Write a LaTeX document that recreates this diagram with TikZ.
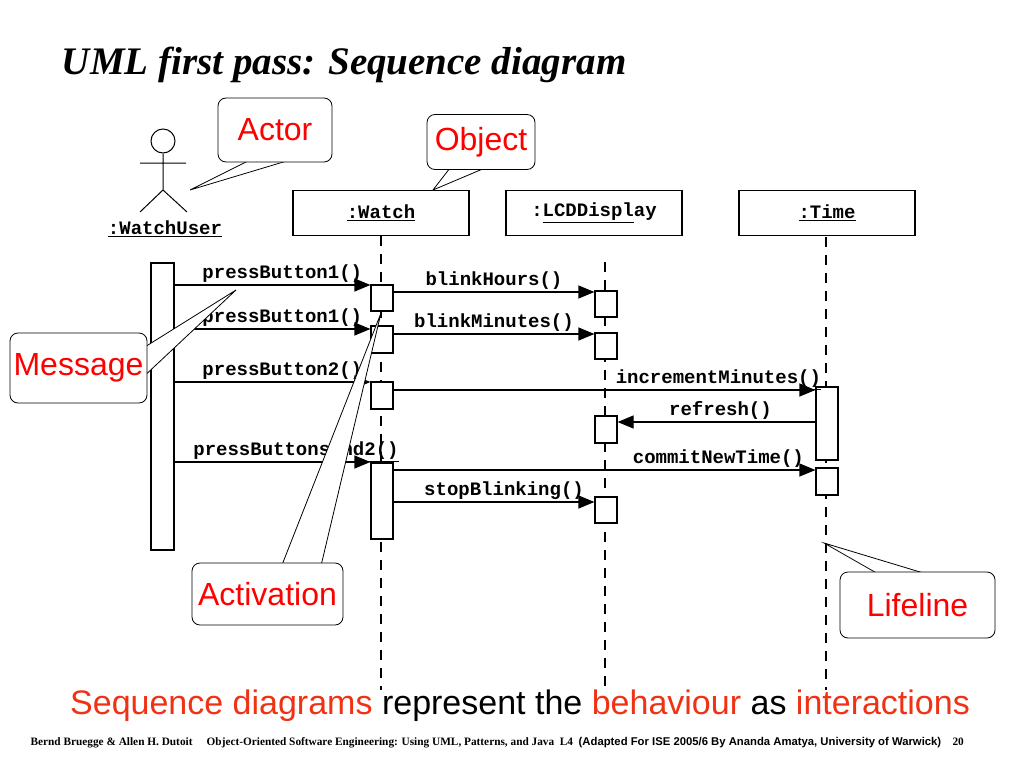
\documentclass[tikz,border=0pt]{standalone}
\usepackage{fontspec}
\setmainfont{Liberation Serif}
\newfontfamily\msf{Liberation Sans}
\newfontfamily\mmono{Liberation Mono}
\usetikzlibrary{arrows.meta}
\definecolor{hl}{RGB}{240,50,20}
\begin{document}
\begin{tikzpicture}[x=1pt,y=-1pt,line width=1.2pt,
 obj/.style={draw,minimum width=176pt,minimum height=45pt,font=\mmono\bfseries\fontsize{19}{19}\selectfont},
 act/.style={draw,fill=white},
 life/.style={dash pattern=on 10pt off 8pt},
 msg/.style={-{Triangle[length=16pt,width=13pt]}},
 lab/.style={font=\mmono\bfseries\fontsize{19}{19}\selectfont,inner sep=1pt},
 call/.style={draw,fill=white,rounded corners=8pt,line width=0.8pt,font=\msf\fontsize{32}{32}\selectfont,text=red},
 cl/.style={draw,fill=white,line width=0.8pt}]
\useasboundingbox (0,0) rectangle (1024,768);
\node[anchor=west,font=\bfseries\itshape\fontsize{39}{39}\selectfont] (title) at (58,65) {UML first pass: Sequence diagram};
% actor
\node[draw,circle,minimum size=24pt,inner sep=0pt,line width=1pt] (head) at (163,141) {};
\coordinate (hip) at (163,190);
\draw[line width=1pt] (head.south) -- (hip) (140,163) -- (186,163) (140,212) -- (hip) -- (187,212);
\node[lab] (wu) at (165,229) {\underline{:WatchUser}};
% objects
\node[obj] (watch) at (381,213) {\underline{:Watch}};
\node[obj] (lcd) at (594,213) {:\underline{LCDDispl}ay};
\node[obj] (time) at (827,213) {\underline{:Time}};
\coordinate (wend) at (381,690); \coordinate (lend) at (605,690); \coordinate (tend) at (826,690);
\draw[life] (watch.south) -- (wend);
\draw[life] (605,262) -- (lend);
\draw[life] (826,237) -- (tend);
% activations
\node[act,minimum width=23pt,minimum height=287pt] (ua) at (162.5,406.5) {};
\node[act,minimum width=22pt,minimum height=26pt] (w1) at (382,298) {};
\node[act,minimum width=22pt,minimum height=27pt] (w2) at (382,339.5) {};
\node[act,minimum width=22pt,minimum height=27pt] (w3) at (382,395.5) {};
\node[act,minimum width=22pt,minimum height=76pt] (w4) at (382,501) {};
\node[act,minimum width=22pt,minimum height=26pt] (l1) at (606,304) {};
\node[act,minimum width=22pt,minimum height=26pt] (l2) at (606,346) {};
\node[act,minimum width=22pt,minimum height=27pt] (l3) at (606,429.5) {};
\node[act,minimum width=22pt,minimum height=26pt] (l4) at (606,510) {};
\node[act,minimum width=22pt,minimum height=73pt] (t1) at (827,423.5) {};
\node[act,minimum width=22pt,minimum height=27pt] (t2) at (827,481.5) {};
% messages
\draw[msg] (ua.east |- 0,285) -- (w1.west |- 0,285) node[lab,pos=0.55,above=-1pt] {\underline{pressButton1()}};
\draw[msg] (w1.east |- 0,292) -- (l1.west |- 0,292) node[lab,pos=0.5,above=-1pt] {\underline{blinkHours()}};
\draw[msg] (ua.east |- 0,329) -- (w2.west |- 0,329) node[lab,pos=0.55,above=-1pt] {\underline{pressButton1()}};
\draw[msg] (w2.east |- 0,334) -- (l2.west |- 0,334) node[lab,pos=0.5,above=-1pt] {\underline{blinkMinutes()}};
\draw[msg] (ua.east |- 0,382) -- (w3.west |- 0,382) node[lab,pos=0.55,above=-1pt] {\underline{pressButton2()}};
\draw[msg] (w3.east |- 0,390) -- (t1.west |- 0,390) node[lab,pos=0.77,above=-1pt] {\underline{incrementMinutes()}};
\draw[msg] (t1.west |- 0,422) -- (l3.east |- 0,422) node[lab,pos=0.48,above=-1pt] {\underline{refresh()}};
\draw[msg] (ua.east |- 0,462) -- (w4.west |- 0,462) node[lab,pos=0.62,above=-1pt] {\underline{pressButtonsAnd2()}};
\draw[msg] (w4.east |- 0,470) -- (t2.west |- 0,470) node[lab,pos=0.77,above=-1pt] {\underline{commitNewTime()}};
\draw[msg] (w4.east |- 0,502) -- (l4.west |- 0,502) node[lab,pos=0.55,above=-1pt] {\underline{stopBlinking()}};
% callouts
\coordinate (pa) at (190,190);
\draw[cl] (250,160) -- (pa) -- (290,160);
\node[call,minimum width=114pt,minimum height=64pt] (actor) at (275,130) {Actor};
\coordinate (po) at (433,190);
\draw[cl] (450,168) -- (po) -- (485,168);
\node[call,minimum width=108pt,minimum height=55pt] (object) at (481,142) {Object};
\coordinate (pm) at (236,290);
\draw[cl] (140,350) -- (pm) -- (140,380);
\node[call,minimum width=137pt,minimum height=70pt,inner sep=1pt] (message) at (78.5,368) {Message};
\coordinate (pac) at (381,313);
\draw[cl] (280,570) -- (pac) -- (320,570);
\node[call,minimum width=151pt,minimum height=62pt] (activation) at (267.5,594) {Activation};
\coordinate (pl) at (824,543);
\draw[cl] (880,575) -- (pl) -- (930,575);
\node[call,minimum width=155pt,minimum height=66pt] (lifeline) at (917.5,605) {Lifeline};
% bottom
\node[font=\msf\fontsize{34}{34}\selectfont] (summary) at (520,706) {\textcolor{hl}{Sequence diagrams} represent the \textcolor{hl}{behaviour} as \textcolor{hl}{interactions}};
\node[anchor=west,inner sep=0pt,font=\bfseries\fontsize{11.3}{11}\selectfont] (foot) at (30,743) {Bernd Bruegge \& Allen H. Dutoit\quad\ Object-Oriented Software Engineering: Using UML, Patterns, and Java\ \ L4\ \ {\msf(Adapted For ISE 2005/6 By Ananda Amatya, University of Warwick)}\quad 20};
\end{tikzpicture}
\end{document}
